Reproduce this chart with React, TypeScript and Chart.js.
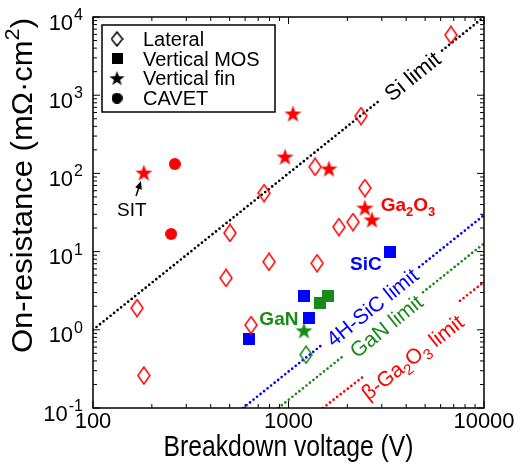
import React, { useEffect, useRef } from 'react';
import { Chart, registerables } from 'chart.js';

Chart.register(...registerables);

const FONT = '"Liberation Sans", Arial, Helvetica, sans-serif';
const RED = '#ff0000';
const BLUE = '#0000ff';
const GREEN = '#178a17';
const BLACK = '#000000';

// ---- Data (breakdown voltage V, on-resistance mΩ·cm²) ----
const lateralGa2O3V = [168, 182, 479, 502, 643, 750, 795, 1400, 1368, 2350, 2460, 1811, 2138, 6770];
const lateralGa2O3R = [1.9, 0.26, 4.6, 17.3, 1.15, 56, 7.4, 7.1, 121, 542, 65, 20.6, 23.9, 5890];
const lateralGaNV = [1230];
const lateralGaNR = [0.48];

const mosSiCV = [628, 1200, 1273, 3300];
const mosSiCR = [0.76, 2.7, 1.42, 9.9];
const mosGaNV = [1449, 1592];
const mosGaNR = [2.2, 2.7];

const finGa2O3V = [182, 1054, 960, 1611, 2460, 2672];
const finGa2O3R = [101, 575, 162, 114, 36, 25.4];
const finGaNV = [1200];
const finGaNR = [0.97];

const cavetV = [262, 251];
const cavetR = [132, 16.8];

// limit lines: start, gap start, gap end, end
const siLimitV = [100, 2870, 6100, 10000];
const siLimitR = [1.0, 824, 3720, 10000];
const sicLimitV = [585, 1500, 4660, 10000];
const sicLimitR = [0.1, 0.657, 6.34, 29.2];
const ganLimitV = [887, 1879, 4876, 10000];
const ganLimitR = [0.1, 0.449, 3.02, 12.7];
const ga2o3LimitV = [1500, 2377, 7534, 10000];
const ga2o3LimitR = [0.1, 0.245, 2.35, 4.08];

// ticks
const xMajor = [100, 1000, 10000];
const xMajorLabels = ['100', '1000', '10000'];
const yMajor = [0.1, 1, 10, 100, 1000, 10000];
const yExponents = ['-1', '0', '1', '2', '3', '4'];
const minorSteps = [2, 3, 4, 5, 6, 7, 8, 9];

const legendLabels = ['Lateral', 'Vertical MOS', 'Vertical fin', 'CAVET'];

type Seg = { t: string; sub?: boolean; sup?: boolean };

function markerCanvas(kind: string, color: string, w: number, h: number): HTMLCanvasElement {
  const c = document.createElement('canvas');
  c.width = w;
  c.height = h;
  const g = c.getContext('2d')!;
  g.fillStyle = color;
  g.strokeStyle = color;
  const cx = w / 2;
  const cy = h / 2;
  if (kind === 'diamond') {
    g.lineWidth = 1.5;
    g.beginPath();
    g.moveTo(cx, 1);
    g.lineTo(w - 1, cy);
    g.lineTo(cx, h - 1);
    g.lineTo(1, cy);
    g.closePath();
    g.stroke();
  } else if (kind === 'square') {
    g.fillRect(0, 0, w, h);
  } else if (kind === 'circle') {
    g.beginPath();
    g.arc(cx, cy, w / 2, 0, Math.PI * 2);
    g.fill();
  } else if (kind === 'star') {
    const R = w / 2 - 0.5;
    const r = R * 0.4;
    g.beginPath();
    for (let i = 0; i < 10; i++) {
      const ang = -Math.PI / 2 + (i * Math.PI) / 5;
      const rr = i % 2 === 0 ? R : r;
      const px = cx + rr * Math.cos(ang);
      const py = cy + rr * Math.sin(ang) + R * 0.05;
      if (i === 0) g.moveTo(px, py);
      else g.lineTo(px, py);
    }
    g.closePath();
    g.fill();
  }
  return c;
}

function drawRich(
  ctx: CanvasRenderingContext2D,
  segs: Seg[],
  x: number,
  y: number,
  angle: number,
  size: number,
  bold: boolean,
  color: string,
  targetLen?: number
) {
  ctx.save();
  ctx.translate(x, y);
  ctx.rotate(angle);
  const b = bold ? 'bold ' : '';
  const fMain = `${b}${size}px ${FONT}`;
  const fSmall = `${b}${Math.round(size * 0.7)}px ${FONT}`;
  let total = 0;
  const widths = segs.map((s) => {
    ctx.font = s.sub || s.sup ? fSmall : fMain;
    const m = ctx.measureText(s.t).width;
    total += m;
    return m;
  });
  if (targetLen) ctx.scale(targetLen / total, 1);
  let cur = -total / 2;
  ctx.fillStyle = color;
  ctx.textAlign = 'left';
  ctx.textBaseline = 'alphabetic';
  const base = size * 0.358;
  segs.forEach((s, i) => {
    ctx.font = s.sub || s.sup ? fSmall : fMain;
    let dy = 0;
    if (s.sub) dy = size * 0.25;
    if (s.sup) dy = -size * 0.42;
    ctx.fillText(s.t, cur, base + dy);
    cur += widths[i];
  });
  ctx.restore();
}

const pts = (V: number[], R: number[]) => V.map((v, i) => ({ x: v, y: R[i] }));
const limitPts = (V: number[], R: number[]) => [
  { x: V[0], y: R[0] },
  { x: V[1], y: R[1] },
  { x: V[1], y: null as any },
  { x: V[2], y: R[2] },
  { x: V[3], y: R[3] },
];

export default function App() {
  const ref = useRef<HTMLCanvasElement>(null);

  useEffect(() => {
    document.body.style.margin = '0';
    const canvas = ref.current!;

    const diamondRed = markerCanvas('diamond', RED, 14, 19);
    const diamondGreen = markerCanvas('diamond', GREEN, 14, 19);
    const squareBlue = markerCanvas('square', BLUE, 12, 12);
    const squareGreen = markerCanvas('square', GREEN, 12, 12);
    const starRed = markerCanvas('star', RED, 19, 19);
    const starGreen = markerCanvas('star', GREEN, 19, 19);
    const circleRed = markerCanvas('circle', RED, 12, 12);

    const legendMarkers = [
      markerCanvas('diamond', BLACK, 13, 16),
      markerCanvas('square', BLACK, 11, 11),
      markerCanvas('star', BLACK, 17, 17),
      markerCanvas('circle', BLACK, 11, 11),
    ];

    const lineDs = (V: number[], R: number[], color: string) => ({
      data: limitPts(V, R),
      showLine: true,
      borderColor: color,
      borderWidth: 2.7,
      borderDash: [0, 4.5],
      borderCapStyle: 'round',
      pointRadius: 0,
      spanGaps: false,
      order: 2,
    });
    const pointDs = (V: number[], R: number[], style: HTMLCanvasElement) => ({
      data: pts(V, R),
      pointStyle: style,
      pointRadius: 6,
      order: 0,
    });

    const decor = {
      id: 'decor',
      afterDraw(chart: any) {
        const ctx: CanvasRenderingContext2D = chart.ctx;
        const { left, right, top, bottom } = chart.chartArea;
        const xs = chart.scales.x;
        const ys = chart.scales.y;
        ctx.save();
        ctx.strokeStyle = BLACK;
        ctx.lineWidth = 1;
        // tick marks (inward, all four sides)
        const xTick = (v: number, len: number) => {
          const px = xs.getPixelForValue(v);
          ctx.beginPath();
          ctx.moveTo(px, bottom);
          ctx.lineTo(px, bottom - len);
          ctx.moveTo(px, top);
          ctx.lineTo(px, top + len);
          ctx.stroke();
        };
        const yTick = (v: number, len: number) => {
          const py = ys.getPixelForValue(v);
          ctx.beginPath();
          ctx.moveTo(left, py);
          ctx.lineTo(left + len, py);
          ctx.moveTo(right, py);
          ctx.lineTo(right - len, py);
          ctx.stroke();
        };
        xMajor.forEach((d, i) => {
          xTick(d, 7);
          if (i < xMajor.length - 1) minorSteps.forEach((m) => xTick(d * m, 4));
        });
        yMajor.forEach((d, i) => {
          yTick(d, 7);
          if (i < yMajor.length - 1) minorSteps.forEach((m) => yTick(d * m, 4));
        });
        // frame
        ctx.lineWidth = 1.5;
        ctx.strokeRect(left, top, right - left, bottom - top);

        // x tick labels
        ctx.fillStyle = BLACK;
        ctx.font = `22px ${FONT}`;
        ctx.textAlign = 'center';
        ctx.textBaseline = 'alphabetic';
        xMajor.forEach((v, i) => {
          ctx.fillText(xMajorLabels[i], xs.getPixelForValue(v), bottom + 20);
        });
        // y tick labels 10^n
        yMajor.forEach((v, i) => {
          const py = ys.getPixelForValue(v);
          const rEdge = left - 10;
          ctx.font = `16px ${FONT}`;
          const ew = ctx.measureText(yExponents[i]).width;
          ctx.textAlign = 'left';
          ctx.fillText(yExponents[i], rEdge - ew, py + 3);
          ctx.font = `22px ${FONT}`;
          ctx.textAlign = 'right';
          ctx.fillText('10', rEdge - ew - 1, py + 12.5);
        });

        // axis titles
        drawRich(ctx, [{ t: 'Breakdown voltage (V)' }], (left + right) / 2, bottom + 37.5, 0, 30, false, BLACK, 250);
        drawRich(
          ctx,
          [{ t: 'On-resistance (mΩ·cm' }, { t: '2', sup: true }, { t: ')' }],
          21,
          top + 168.5,
          -Math.PI / 2,
          30,
          false,
          BLACK,
          335
        );

        // legend
        const lx = left + 9;
        const ly = top + 8;
        ctx.fillStyle = '#ffffff';
        ctx.fillRect(lx, ly, 173, 87);
        ctx.lineWidth = 1.5;
        ctx.strokeStyle = BLACK;
        ctx.strokeRect(lx, ly, 173, 87);
        ctx.font = `20px ${FONT}`;
        ctx.fillStyle = BLACK;
        ctx.textAlign = 'left';
        ctx.textBaseline = 'alphabetic';
        legendLabels.forEach((lab, i) => {
          const cy = ly + 14 + i * 19.7;
          const m = legendMarkers[i];
          ctx.drawImage(m, lx + 15 - m.width / 2, cy - m.height / 2);
          ctx.fillText(lab, lx + 41, cy + 7);
        });

        // limit-line labels, rotated along their lines
        const angleOf = (V: number[], R: number[]) => {
          const x1 = xs.getPixelForValue(V[0]);
          const y1 = ys.getPixelForValue(R[0]);
          const x2 = xs.getPixelForValue(V[3]);
          const y2 = ys.getPixelForValue(R[3]);
          return Math.atan2(y2 - y1, x2 - x1);
        };
        const at = (v: number, r: number) => [xs.getPixelForValue(v), ys.getPixelForValue(r)];
        let p = at(4285, 1762);
        drawRich(ctx, [{ t: 'Si limit' }], p[0], p[1], angleOf(siLimitV, siLimitR), 22, false, BLACK);
        p = at(2673, 1.96);
        drawRich(ctx, [{ t: '4H-SiC limit' }], p[0], p[1], angleOf(sicLimitV, sicLimitR), 21, false, BLUE);
        p = at(3155, 1.12);
        drawRich(ctx, [{ t: 'GaN limit' }], p[0], p[1], angleOf(ganLimitV, ganLimitR), 21, false, GREEN);
        p = at(4285, 0.449);
        drawRich(
          ctx,
          [{ t: 'β-Ga' }, { t: '2', sub: true }, { t: 'O' }, { t: '3', sub: true }, { t: ' limit' }],
          p[0],
          p[1],
          angleOf(ga2o3LimitV, ga2o3LimitR),
          21,
          false,
          RED
        );

        // material labels
        p = at(4085, 40.6);
        drawRich(ctx, [{ t: 'Ga' }, { t: '2', sub: true }, { t: 'O' }, { t: '3', sub: true }], p[0], p[1], 0, 19, true, RED);
        p = at(2490, 7.1);
        drawRich(ctx, [{ t: 'SiC' }], p[0], p[1], 0, 19, true, BLUE);
        p = at(893, 1.42);
        drawRich(ctx, [{ t: 'GaN' }], p[0], p[1], 0, 19, true, GREEN);
        p = at(158, 35);
        drawRich(ctx, [{ t: 'SIT' }], p[0], p[1], 0, 19, false, BLACK);

        // SIT arrow
        const tail = at(166, 51.4);
        const tip = at(176, 80);
        const a = Math.atan2(tip[1] - tail[1], tip[0] - tail[0]);
        ctx.strokeStyle = BLACK;
        ctx.fillStyle = BLACK;
        ctx.lineWidth = 1.5;
        ctx.beginPath();
        ctx.moveTo(tail[0], tail[1]);
        ctx.lineTo(tip[0] - 5 * Math.cos(a), tip[1] - 5 * Math.sin(a));
        ctx.stroke();
        ctx.beginPath();
        ctx.moveTo(tip[0], tip[1]);
        ctx.lineTo(tip[0] - 8 * Math.cos(a) + 3.5 * Math.sin(a), tip[1] - 8 * Math.sin(a) - 3.5 * Math.cos(a));
        ctx.lineTo(tip[0] - 8 * Math.cos(a) - 3.5 * Math.sin(a), tip[1] - 8 * Math.sin(a) + 3.5 * Math.cos(a));
        ctx.closePath();
        ctx.fill();
        ctx.restore();
      },
    };

    const chart = new Chart(canvas, {
      type: 'scatter',
      data: {
        datasets: [
          lineDs(siLimitV, siLimitR, BLACK),
          lineDs(sicLimitV, sicLimitR, BLUE),
          lineDs(ganLimitV, ganLimitR, GREEN),
          lineDs(ga2o3LimitV, ga2o3LimitR, RED),
          pointDs(lateralGa2O3V, lateralGa2O3R, diamondRed),
          pointDs(lateralGaNV, lateralGaNR, diamondGreen),
          pointDs(mosSiCV, mosSiCR, squareBlue),
          pointDs(mosGaNV, mosGaNR, squareGreen),
          pointDs(cavetV, cavetR, circleRed),
          pointDs(finGa2O3V, finGa2O3R, starRed),
          pointDs(finGaNV, finGaNR, starGreen),
        ] as any,
      },
      options: {
        animation: false,
        responsive: false,
        events: [],
        layout: { padding: { top: 17, right: 36, left: 0, bottom: 0 } },
        plugins: { legend: { display: false }, tooltip: { enabled: false } },
        scales: {
          x: {
            type: 'logarithmic',
            min: 100,
            max: 10000,
            ticks: { display: false },
            grid: { display: false },
            border: { display: false },
            afterFit: (s: any) => {
              s.height = 60;
            },
          },
          y: {
            type: 'logarithmic',
            min: 0.1,
            max: 10000,
            ticks: { display: false },
            grid: { display: false },
            border: { display: false },
            afterFit: (s: any) => {
              s.width = 93;
            },
          },
        },
      } as any,
      plugins: [decor],
    });

    return () => chart.destroy();
  }, []);

  return (
    <div style={{ width: 520, height: 468 }}>
      <canvas ref={ref} width={520} height={468} style={{ display: 'block' }} />
    </div>
  );
}
